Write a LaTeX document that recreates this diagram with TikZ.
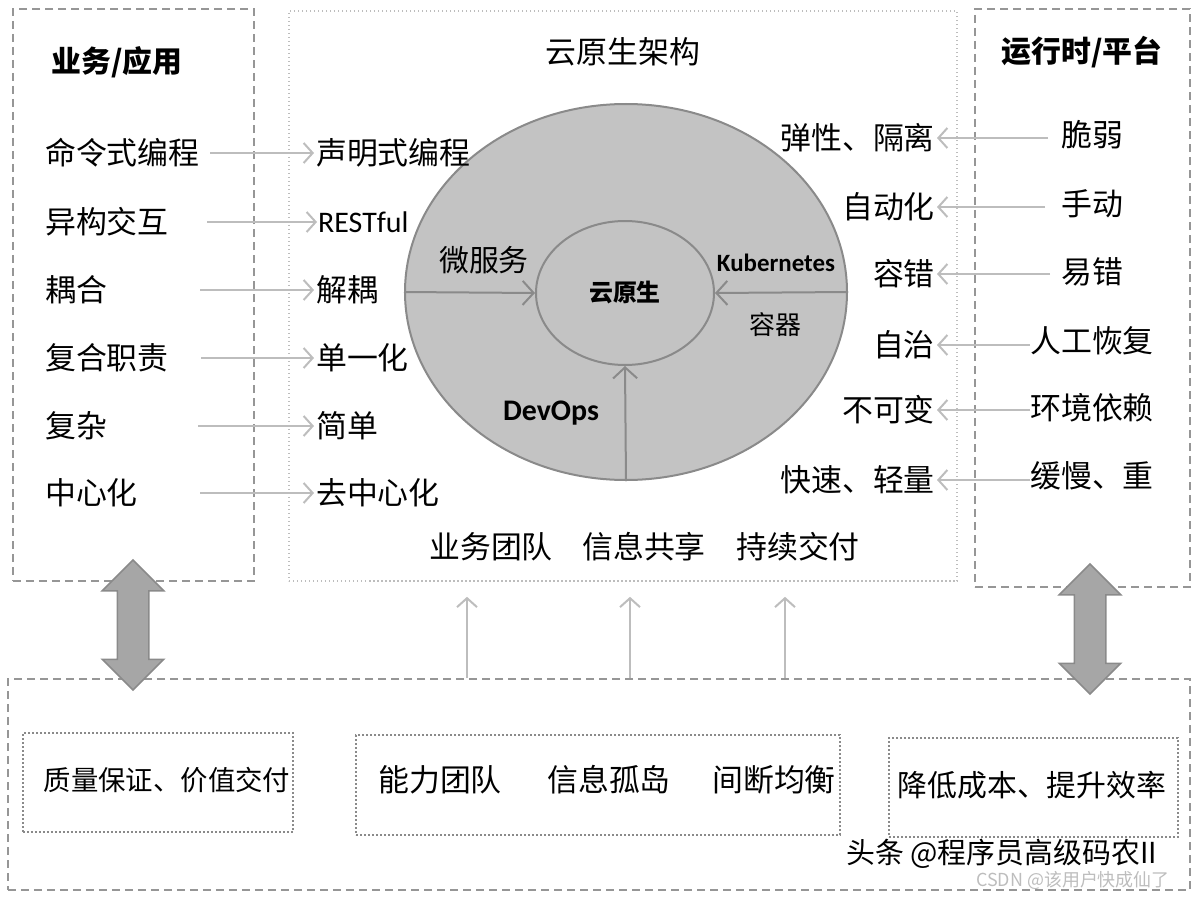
\documentclass[tikz,border=0pt]{standalone}
\usepackage{fontspec}
\setmainfont{Noto Sans CJK SC}
\newfontfamily\latfont{Carlito}
\definecolor{lgray}{HTML}{BDBDBD}
\definecolor{mgray}{HTML}{8A8A8A}
\definecolor{dgray}{HTML}{969696}
\definecolor{cfill}{HTML}{C3C3C3}
\definecolor{afill}{HTML}{A6A6A6}
\usetikzlibrary{arrows.meta, shapes.geometric, shapes.arrows}

\begin{document}
\begin{tikzpicture}[x=1bp, y=-1bp,
  dbox/.style={draw=dgray, line width=2bp, dash pattern=on 8bp off 5bp, inner sep=0pt},
  pbox/.style={draw=lgray, line width=1.6bp, dash pattern=on 1.5bp off 2.5bp, inner sep=0pt},
  sbox/.style={draw=mgray, line width=1.8bp, dash pattern=on 1.8bp off 2.2bp, inner sep=0pt},
  txt/.style={font=\fontsize{31}{35}\selectfont, inner sep=2bp},
  hdr/.style={font=\fontsize{30}{34}\selectfont\bfseries, inner sep=2bp},
  small/.style={font=\fontsize{26}{30}\selectfont, inner sep=1bp},
  lat/.style={font=\fontsize{25}{29}\selectfont\latfont\bfseries, inner sep=1bp},
  larrow/.style={draw=lgray, line width=2bp, -{Straight Barb[length=9bp, width=20bp, line width=2bp]}},
  carrow/.style={draw=mgray, line width=2bp, -{Straight Barb[length=11bp, width=24bp, line width=2bp]}},
  bigarrow/.style={double arrow, draw=mgray, fill=afill, line width=1.5bp, inner sep=15bp,
                   double arrow head extend=15bp, double arrow tip angle=90,
                   minimum height=130bp, shape border rotate=90},
]
\useasboundingbox (0,0) rectangle (1197,897);

\node[dbox, minimum width=241bp, minimum height=572bp] (app) at (133.5,295) {};
\node[pbox, minimum width=668bp, minimum height=570bp] (cn) at (623,296) {};
\node[dbox, minimum width=215bp, minimum height=578bp] (rt) at (1082.5,298) {};
\node[dbox, minimum width=1182bp, minimum height=211bp] (org) at (599,784.5) {};

\node[sbox, minimum width=270bp, minimum height=99bp] (q1) at (158,782.5) {};
\node[sbox, minimum width=484bp, minimum height=100bp] (q2) at (598,785) {};
\node[sbox, minimum width=289bp, minimum height=99bp] (q3) at (1033.5,787.5) {};

\node[hdr] (apph) at (117,62) {业务/应用};
\node[txt] (cnh) at (623,52) {云原生架构};
\node[hdr] (rth) at (1082,52) {运行时/平台};

% circle
\node[ellipse, draw=mgray, fill=cfill, line width=2bp, minimum width=442bp, minimum height=376bp] (outer) at (626,292) {};
\node[ellipse, draw=mgray, fill=cfill, line width=2bp, minimum width=178bp, minimum height=144bp,
      font=\fontsize{24}{28}\selectfont\bfseries] (core) at (625,293) {云原生};
\draw[carrow] (outer.west) -- (core.west);
\draw[carrow] (outer.east) -- (core.east);
\draw[carrow] (outer.south) -- (core.south);
\node[txt, font=\fontsize{30}{34}\selectfont] (ms) at (484,260) {微服务};
\node[lat] (k8s) at (776,263) {Kubernetes};
\node[small] (ctn) at (775,325) {容器};
\node[lat, font=\fontsize{30}{34}\selectfont\latfont\bfseries] (dev) at (551,413) {DevOps};

% left side
\node[txt, anchor=west] (l1) at (43,153) {命令式编程};
\node[txt, anchor=west] (l2) at (43,222) {异构交互};
\node[txt, anchor=west] (l3) at (43,290) {耦合};
\node[txt, anchor=west] (l4) at (43,358) {复合职责};
\node[txt, anchor=west] (l5) at (43,426) {复杂};
\node[txt, anchor=west] (l6) at (43,493) {中心化};

\node[txt, anchor=west] (m1) at (314,153) {声明式编程};
\node[lat, anchor=west, font=\fontsize{30}{34}\selectfont\latfont] (m2) at (317,222) {RESTful};
\node[txt, anchor=west] (m3) at (314,290) {解耦};
\node[txt, anchor=west] (m4) at (314,358) {单一化};
\node[txt, anchor=west] (m5) at (314,426) {简单};
\node[txt, anchor=west] (m6) at (314,493) {去中心化};

\draw[larrow] (l1.east -| 210,0) -- (m1.west);
\draw[larrow] (l2.east -| 207,0) -- (m2.west);
\draw[larrow] (l3.east -| 200,0) -- (m3.west);
\draw[larrow] (l4.east -| 201,0) -- (m4.west);
\draw[larrow] (l5.east -| 198,0) -- (m5.west);
\draw[larrow] (l6.east -| 200,0) -- (m6.west);

% right side
\node[txt] (r1) at (1092,135) {脆弱};
\node[txt] (r2) at (1092,204) {手动};
\node[txt] (r3) at (1092,272) {易错};
\node[txt] (r4) at (1092,341) {人工恢复};
\node[txt] (r5) at (1092,408) {环境依赖};
\node[txt] (r6) at (1092,476) {缓慢、重};

\node[txt, anchor=east] (p1) at (937,138) {弹性、隔离};
\node[txt, anchor=east] (p2) at (937,207) {自动化};
\node[txt, anchor=east] (p3) at (937,274) {容错};
\node[txt, anchor=east] (p4) at (937,345) {自治};
\node[txt, anchor=east] (p5) at (937,410) {不可变};
\node[txt, anchor=east] (p6) at (937,480) {快速、轻量};

\draw[larrow] (p1.east -| 1048,0) -- (p1.east);
\draw[larrow] (p2.east -| 1045,0) -- (p2.east);
\draw[larrow] (p3.east -| 1050,0) -- (p3.east);
\draw[larrow] (p4.east -| 1030,0) -- (p4.east);
\draw[larrow] (p5.east -| 1030,0) -- (p5.east);
\draw[larrow] (p6.east -| 1030,0) -- (p6.east);

% culture row
\node[txt] (t1) at (491,547) {业务团队};
\node[txt] (t2) at (644,547) {信息共享};
\node[txt] (t3) at (798,547) {持续交付};

\draw[larrow] (org.north -| 467,0) -- ([yshift=-15bp]cn.south -| 467,0);
\draw[larrow] (org.north -| 630,0) -- ([yshift=-15bp]cn.south -| 630,0);
\draw[larrow] (org.north -| 785,0) -- ([yshift=-15bp]cn.south -| 785,0);

% organisation row
\node[txt, font=\fontsize{27.5}{31}\selectfont] (o1) at (167,780) {质量保证、价值交付};
\node[txt] (o2) at (440,780) {能力团队};
\node[txt] (o3) at (609,780) {信息孤岛};
\node[txt] (o4) at (774,780) {间断均衡};
\node[txt, font=\fontsize{30}{34}\selectfont] (o5) at (1032,785) {降低成本、提升效率};

\node[bigarrow] (la) at (133,625) {};
\node[bigarrow] (ra) at (1090,629) {};

\node[font=\fontsize{29}{33}\selectfont, anchor=west, inner sep=0pt] (wm1) at (846,854) {头条 @程序员高级码农II};
\node[font=\fontsize{18}{21}\selectfont, text=lgray, anchor=west, inner sep=0pt] (wm2) at (976,880) {CSDN @该用户快成仙了};
\end{tikzpicture}
\end{document}
